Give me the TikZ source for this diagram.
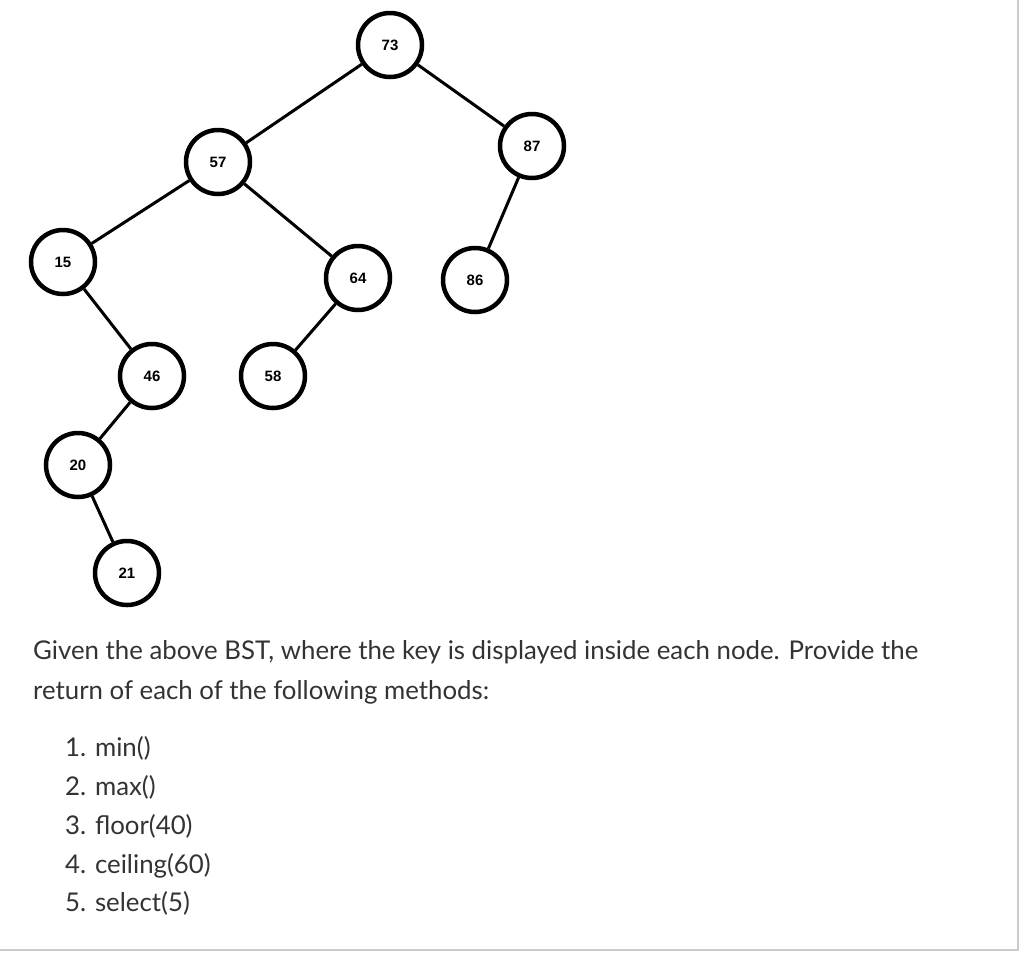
\documentclass[tikz,border=0pt]{standalone}
\usepackage{fontspec}
\setmainfont{Lato}
\newfontfamily\nodefont{Liberation Sans}
\begin{document}
\begin{tikzpicture}[x=1pt,y=-1pt,
  bst/.style={circle,draw,line width=4.5pt,minimum size=64pt,inner sep=0pt,fill=white,font=\nodefont\bfseries\fontsize{15}{17}\selectfont},
  edge/.style={line width=3pt},
  txt/.style={anchor=base west,inner sep=0pt,font=\fontsize{25.8}{30}\selectfont,text=black!80}]
\useasboundingbox (0,0) rectangle (1024,954);
\draw[black!20,line width=1.5pt] (1018,0) -- (1018,950) -- (0,950);
\node[bst] (n73) at (390,45) {73};
\node[bst] (n87) at (532,146) {87};
\node[bst] (n57) at (218,162) {57};
\node[bst] (n15) at (63,262) {15};
\node[bst] (n64) at (358,278) {64};
\node[bst] (n86) at (475,280) {86};
\node[bst] (n46) at (152,376) {46};
\node[bst] (n58) at (273,376) {58};
\node[bst] (n20) at (78,465) {20};
\node[bst] (n21) at (127,573) {21};
\foreach \a/\b in {n73/n57,n73/n87,n87/n86,n57/n15,n57/n64,n15/n46,n64/n58,n46/n20,n20/n21}
  \draw[edge] (\a) -- (\b);
\node[txt] (t1) at (33,659) {Given the above BST, where the key is displayed inside each node. Provide the};
\node[txt] (t2) at (33,699) {return of each of the following methods:};
\node[txt] (l1) at (65,756) {1. min()};
\node[txt] (l2) at (65,795) {2. max()};
\node[txt] (l3) at (65,834) {3. floor(40)};
\node[txt] (l4) at (65,873) {4. ceiling(60)};
\node[txt] (l5) at (65,911) {5. select(5)};
\end{tikzpicture}
\end{document}
